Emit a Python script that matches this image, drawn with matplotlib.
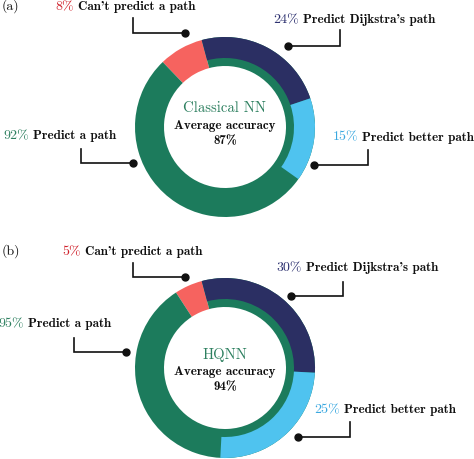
import matplotlib.pyplot as plt

W, H = 474, 459

panel_tags = ["(a)", "(b)"]
models = ["Classical NN", "HQNN"]
avg_accuracy = [87, 94]
cant_predict = [8, 5]
predict_path = [92, 95]
dijkstra_path = [24, 30]
better_path = [15, 25]

names = ["Can't predict a path", "Predict Dijkstra's path",
         "Predict better path", "Predict a path"]

c_green = '#1c7b5c'
c_red = '#f6635f'
c_navy = '#2b2f63'
c_light = '#4fc3ef'
t_red = '#d0202a'
t_navy = '#2d3170'
t_light = '#3aa8e0'
t_green = '#2e8060'
t_black = '#111111'

# layout in image pixels (y measured from top)
layout = [
    dict(cy=127, tag_y=10,
         labels=[(76, 10), (301, 23.5), (360, 140.5), (31, 139)],
         leaders=[(133, 18, 33, 185), (340, 30, 46, 288),
                  (368, 150, 165, 314), (81, 149, 163, 133)],
         center_y=(112.5, 129, 144)),
    dict(cy=368, tag_y=255,
         labels=[(83, 255), (304, 271.5), (342, 413), (26, 327.5)],
         leaders=[(133, 263, 277, 185), (343, 282, 296, 291),
                  (350, 422, 437, 298), (74, 338, 352, 126)],
         center_y=(358.5, 375, 390)),
]

cx, R, hole, band = 225, 90, 61, 21
fs = 9.4


def Y(y):
    return H - y


fig = plt.figure(figsize=(W / 100, H / 100), dpi=100)
ax = fig.add_axes([0, 0, 1, 1])

for i, lay in enumerate(layout):
    center = (cx, Y(lay['cy']))
    start = 105
    # full thickness ring: can't predict + predict a path
    ax.pie([cant_predict[i], 100 - cant_predict[i]], colors=[c_red, c_green],
           startangle=start + cant_predict[i] * 3.6, counterclock=False,
           radius=R, center=center, frame=True,
           wedgeprops=dict(width=R - hole, linewidth=0))
    # outer band: Dijkstra + better path
    rest = 100 - dijkstra_path[i] - better_path[i]
    ax.pie([dijkstra_path[i], better_path[i], rest],
           colors=[c_navy, c_light, 'none'],
           startangle=start, counterclock=False,
           radius=R, center=center, frame=True,
           wedgeprops=dict(width=band, linewidth=0))

    vals = [cant_predict[i], dijkstra_path[i], better_path[i], predict_path[i]]
    tcols = [t_red, t_navy, t_light, t_green]
    for (sx, by), v, name, tc in zip(lay['labels'], vals, names, tcols):
        ax.text(sx - 2, Y(by), f"{v}%", ha='right', va='baseline', color=tc,
                fontfamily='cmr10', fontsize=fs + 0.6)
        ax.text(sx + 2, Y(by), name, ha='left', va='baseline', color=t_black,
                fontfamily='cmb10', fontsize=fs)

    for (lx, y0, y1, dx) in lay['leaders']:
        ax.plot([lx, lx, dx], [Y(y0), Y(y1), Y(y1)], color=t_black, lw=1.2,
                solid_joinstyle='miter')
        ax.plot([dx], [Y(y1)], 'o', color=t_black, ms=5)

    ax.text(2, Y(lay['tag_y']), panel_tags[i], ha='left', va='baseline',
            color=t_black, fontfamily='cmr10', fontsize=fs + 0.6)

    y1, y2, y3 = lay['center_y']
    ax.text(cx, Y(y1), models[i], ha='center', va='baseline', color=t_green,
            fontfamily='cmr10', fontsize=10.6)
    ax.text(cx, Y(y2), "Average accuracy", ha='center', va='baseline',
            color=t_black, fontfamily='cmb10', fontsize=fs)
    ax.text(cx, Y(y3), f"{avg_accuracy[i]}%", ha='center', va='baseline',
            color=t_black, fontfamily='cmb10', fontsize=fs)

ax.set_xlim(0, W)
ax.set_ylim(0, H)
ax.set_aspect('equal')
ax.axis('off')

fig.savefig('out.png', dpi=100)
